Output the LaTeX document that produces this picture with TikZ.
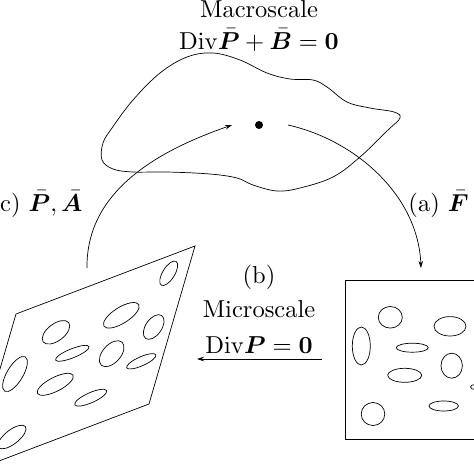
\documentclass[tikz,border=0pt]{standalone}
\usepackage{amsmath,bm}
\usetikzlibrary{arrows.meta}
\tikzset{
  thin line/.style={line width=0.7pt},
  arr/.style={thin line,-{Stealth[length=7pt,width=4.5pt]}},
  lbl/.style={anchor=base,inner sep=0pt,scale=2.45},
  incl/.style={thin line}
}
\begin{document}
\begin{tikzpicture}[x=1pt,y=-1pt]
\useasboundingbox (0,0) rectangle (474,474);
\clip (0,0) rectangle (474,474);
% labels
\node[lbl] (macro) at (259,17.5) {Macroscale};
\node[lbl] (maceq) at (259,49) {$\mathrm{Div}\bar{\bm P}+\bar{\bm B}=\mathbf 0$};
\node[lbl] (b) at (259,283) {(b)};
\node[lbl] (micro) at (259,317) {Microscale};
\node[lbl] (miceq) at (259,353) {$\mathrm{Div}\bm P=\mathbf 0$};
\node[lbl,anchor=base east] (c) at (83,211) {(c)\ $\bar{\bm P},\bar{\bm A}$};
\node[lbl,anchor=base west] (a) at (408,211) {(a)\ $\bar{\bm F}$};
% macro domain
\draw[thin line] plot[smooth cycle,tension=0.6] coordinates {
 (213,53) (240,60) (267,73) (290,79) (313,80) (327,87) (347,102) (370,108)
 (394,112) (400,118) (388,130) (360,157) (333,177) (300,188) (277,191)
 (253,185) (237,178) (210,174) (167,172) (133,172) (113,169) (102,160)
 (103,143) (112,128) (133,100) (160,73) (187,57)};
\node[circle,fill=black,inner sep=0pt,minimum size=8pt] (pt) at (259,125) {};
% connector coordinates
\coordinate (cs) at (87,268);
\coordinate (ce) at (232,125);
\coordinate (as) at (288,125);
\coordinate (ae) at (421,268);
\coordinate (bs) at (322,359);
\coordinate (be) at (197,359);
\draw[arr] (cs) .. controls (86,190) and (160,150) .. (ce);
\draw[arr] (as) .. controls (355,140) and (418,195) .. (ae);
\draw[arr] (bs) -- (be);
% deformed RVE
\draw[thin line] (16,314) -- (195,246) -- (149,404) -- (-30,472) -- cycle;
\foreach \cx/\cy/\ang/\ra/\rb in {
 168.7/273.3/58/14/6, 121.3/315.3/32/20.5/8, 153.7/327/55/14/8,
 56/332.3/37/16/8.5, 72.3/353.3/22/18/4.5, 111.7/353.7/48/15.5/9,
 141.3/361.3/24/16/4.5, 15/374/59/20/8, 55.3/384.3/27/20/7,
 90.7/397.7/24/17.4/5, 12/437/38/17/7}
 \draw[incl] (\cx,\cy) ellipse[x radius=\ra, y radius=\rb, rotate=\ang];
% undeformed RVE
\draw[thin line] (345,280) rectangle (490,439);
\foreach \cx/\cy/\ra/\rb in {
 390.3/317.3/12/10.8, 450/326.3/16/9.7, 361.3/346/9/19, 412.3/347.7/16/4.5,
 451.7/365.7/10.7/12.5, 404.7/375.3/17/7, 475/387/4.5/2.5, 443.7/406/14.7/5,
 373/414/11.8/11.5}
 \draw[incl] (\cx,\cy) ellipse[x radius=\ra, y radius=\rb];
\end{tikzpicture}
\end{document}
